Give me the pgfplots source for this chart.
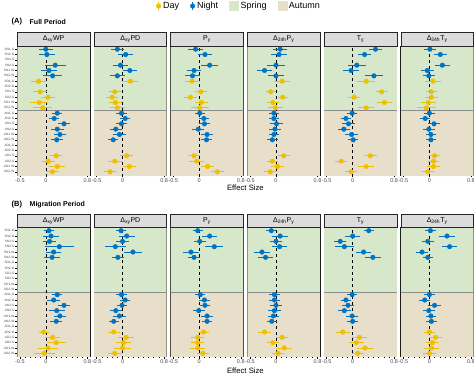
\documentclass[border=0pt]{standalone}
\usepackage{pgfplots}
\pgfplotsset{compat=1.18}
\usepackage{pgfplotstable}
\usepackage{fontspec}
\setmainfont{Liberation Sans}

\definecolor{dayc}{HTML}{EFC000}
\definecolor{nightc}{HTML}{0073C2}
\definecolor{springc}{HTML}{D7E7C9}
\definecolor{autumnc}{HTML}{E8DFCB}
\definecolor{stripc}{HTML}{DCDCDC}

% ---------- Full period ----------
\pgfplotstableread{
y x e
24 0.00 0.14
23 0.02 0.16
21 0.18 0.20
20 0.06 0.15
19 0.13 0.18
12 0.22 0.10
11 0.16 0.10
10 0.35 0.12
9 0.22 0.12
8 0.27 0.12
7 0.21 0.12
}\tAaN
\pgfplotstableread{
y x e
18 -0.14 0.14
16 -0.11 0.14
15 0.04 0.14
14 -0.13 0.17
13 -0.06 0.18
4 0.20 0.12
3 0.05 0.12
2 0.22 0.15
1 0.13 0.13
}\tAaD
\pgfplotstableread{
y x e
24 -0.10 0.13
23 0.06 0.14
21 -0.04 0.15
20 0.14 0.13
19 -0.10 0.15
12 -0.02 0.10
11 0.05 0.10
10 -0.02 0.10
9 -0.13 0.12
8 -0.06 0.12
7 -0.18 0.10
}\tAbN
\pgfplotstableread{
y x e
18 0.15 0.15
16 -0.15 0.12
15 -0.20 0.12
14 -0.14 0.13
13 -0.10 0.14
4 0.08 0.12
3 -0.15 0.14
2 0.13 0.12
1 -0.24 0.12
}\tAbD
\pgfplotstableread{
y x e
24 -0.07 0.15
23 0.11 0.13
21 0.20 0.16
20 -0.10 0.13
19 -0.13 0.15
12 0.01 0.10
11 0.09 0.10
10 0.10 0.10
9 -0.02 0.12
8 0.15 0.12
7 0.14 0.10
}\tAcN
\pgfplotstableread{
y x e
18 -0.14 0.13
16 0.03 0.12
15 -0.17 0.12
14 0.04 0.13
13 0.01 0.17
4 -0.10 0.12
3 -0.05 0.14
2 0.16 0.13
1 0.35 0.12
}\tAcD
\pgfplotstableread{
y x e
24 0.08 0.13
23 0.06 0.15
21 0.00 0.17
20 -0.22 0.15
19 0.00 0.15
12 -0.04 0.10
11 -0.04 0.10
10 0.01 0.12
9 -0.02 0.12
8 -0.04 0.10
7 -0.07 0.10
}\tAdN
\pgfplotstableread{
y x e
18 0.12 0.15
16 -0.10 0.10
15 0.13 0.10
14 -0.06 0.12
13 -0.01 0.15
4 0.15 0.12
3 -0.07 0.10
2 0.03 0.12
1 -0.11 0.12
}\tAdD
\pgfplotstableread{
y x e
24 0.44 0.12
23 0.23 0.12
21 0.08 0.17
20 -0.03 0.15
19 0.41 0.18
12 -0.01 0.10
11 -0.13 0.10
10 -0.08 0.12
9 -0.17 0.12
8 -0.02 0.12
7 0.01 0.10
}\tAeN
\pgfplotstableread{
y x e
18 0.26 0.17
16 0.56 0.12
15 0.03 0.12
14 0.61 0.14
13 0.26 0.16
4 0.34 0.12
3 -0.22 0.12
2 0.26 0.15
1 -0.03 0.12
}\tAeD
\pgfplotstableread{
y x e
24 0.01 0.12
23 0.21 0.12
21 0.25 0.14
20 -0.04 0.12
19 -0.01 0.12
12 0.00 0.10
11 -0.08 0.10
10 0.09 0.12
9 -0.01 0.12
8 0.03 0.10
7 0.03 0.10
}\tAfN
\pgfplotstableread{
y x e
18 0.07 0.15
16 0.04 0.10
15 0.04 0.12
14 -0.02 0.15
13 -0.06 0.18
4 0.10 0.10
3 0.08 0.10
2 0.08 0.12
1 -0.03 0.12
}\tAfD

% ---------- Migration period ----------
\pgfplotstableread{
y x e
24 0.06 0.10
23 0.10 0.15
22 0.07 0.12
21 0.26 0.28
20 0.15 0.15
19 0.12 0.15
12 0.22 0.10
11 0.15 0.12
10 0.35 0.12
9 0.21 0.15
8 0.27 0.12
7 0.20 0.12
}\tBaN
\pgfplotstableread{
y x e
5 -0.04 0.10
4 0.13 0.15
3 0.20 0.18
2 0.04 0.20
1 -0.03 0.20
}\tBaD
\pgfplotstableread{
y x e
24 -0.03 0.10
23 0.08 0.15
22 0.00 0.12
21 -0.14 0.20
20 0.20 0.18
19 -0.09 0.12
12 -0.02 0.10
11 0.05 0.10
10 -0.01 0.10
9 -0.13 0.12
8 -0.06 0.12
7 -0.17 0.10
}\tBbN
\pgfplotstableread{
y x e
5 -0.17 0.12
4 0.07 0.15
3 0.02 0.14
2 0.00 0.16
1 -0.15 0.14
}\tBbD
\pgfplotstableread{
y x e
24 -0.03 0.10
23 0.20 0.14
22 0.01 0.12
21 0.29 0.17
20 -0.16 0.15
19 -0.10 0.12
12 0.02 0.10
11 0.10 0.10
10 0.11 0.10
9 -0.01 0.12
8 0.15 0.12
7 0.15 0.10
}\tBcN
\pgfplotstableread{
y x e
5 0.08 0.10
4 -0.03 0.12
3 -0.03 0.12
2 -0.03 0.14
1 0.07 0.12
}\tBcD
\pgfplotstableread{
y x e
24 -0.09 0.10
23 0.08 0.15
22 0.00 0.12
21 0.07 0.15
20 -0.27 0.15
19 -0.20 0.15
12 -0.03 0.10
11 -0.03 0.10
10 0.00 0.12
9 -0.03 0.12
8 -0.05 0.10
7 -0.08 0.10
}\tBdN
\pgfplotstableread{
y x e
5 -0.22 0.12
4 0.12 0.12
3 -0.06 0.12
2 0.16 0.15
1 0.04 0.12
}\tBdD
\pgfplotstableread{
y x e
24 0.31 0.10
23 0.00 0.15
22 -0.24 0.12
21 -0.16 0.18
20 0.21 0.15
19 0.39 0.15
12 -0.01 0.10
11 -0.13 0.10
10 -0.09 0.12
9 -0.16 0.12
8 -0.01 0.12
7 0.00 0.10
}\tBeN
\pgfplotstableread{
y x e
5 -0.19 0.14
4 0.13 0.15
3 0.07 0.15
2 0.24 0.16
1 0.10 0.12
}\tBeD
\pgfplotstableread{
y x e
24 0.02 0.10
23 0.34 0.15
22 -0.03 0.12
21 0.39 0.15
20 -0.14 0.12
19 -0.03 0.10
12 0.00 0.10
11 -0.09 0.10
10 0.10 0.12
9 -0.01 0.12
8 0.03 0.10
7 0.04 0.10
}\tBfN
\pgfplotstableread{
y x e
5 0.00 0.10
4 0.12 0.12
3 0.06 0.12
2 0.04 0.14
1 0.00 0.12
}\tBfD

\pgfplotsset{
 panel/.style={
  scale only axis, width=72.7pt, height=129pt,
  xmin=-0.55, xmax=0.85, ymin=0.4, ymax=24.6,
  xtick={-0.5,0,0.8}, xticklabels={{-0.5},{0},{0.8}},
  minor xtick={-0.4,-0.3,-0.2,-0.1,0.1,0.2,0.3,0.4,0.5,0.6,0.7},
  tick align=outside, tick pos=left,
  major tick length=2pt, minor tick length=1.3pt,
  major tick style={black, line width=0.5pt},
  minor tick style={black, line width=0.5pt},
  axis line style={black, line width=0.8pt},
  xticklabel style={font=\fontsize{5.5}{6}\selectfont, text=black!70, inner sep=1pt},
  yticklabel style={font=\fontsize{3.2}{3.5}\selectfont, text=black!70, inner sep=0.8pt},
  ytick=\empty,
 },
 firstcol/.style={ytick={1,...,24},
  yticklabels={AD2-W,AD1-W,AD2-S,AD1-S,AD2-G,AD1-G,AN2-W,AN1-W,AN2-S,AN1-S,AN2-G,AN1-G,SD2-W,SD1-W,SD2-S,SD1-S,SD2-G,SD1-G,SN2-W,SN1-W,SN2-S,SN1-S,SN2-G,SN1-G}},
 cibar/.style={forget plot, only marks, scatter, mark=-,
  mark options={line width=0.85pt},
  scatter/use mapped color={draw=#1, fill=#1},
  visualization depends on={51.93*\thisrow{e} \as \hw},
  scatter/@pre marker code/.append style={/tikz/mark size=\hw}},
 cidot/.style={forget plot, only marks, scatter, mark=*, mark size=2.3pt,
  scatter/use mapped color={draw=#1, fill=#1}},
}

\newcommand{\panel}[8]{%
\begin{axis}[panel, name=#1, at={(#2pt,#3pt)}, anchor=north west, #7]
\fill[springc] (axis cs:-0.6,12.5) rectangle (axis cs:0.9,25);
\fill[autumnc] (axis cs:-0.6,0) rectangle (axis cs:0.9,12.5);
\draw[black!45, line width=0.5pt] (axis cs:-0.6,12.5) -- (axis cs:0.9,12.5);
\draw[dashed, line width=0.6pt] (axis cs:0,0) -- (axis cs:0,25);
\addplot[cibar=nightc] table[x=x,y=y] {#5};
\addplot[cidot=nightc] table[x=x,y=y] {#5};
\addplot[cibar=dayc] table[x=x,y=y] {#6};
\addplot[cidot=dayc] table[x=x,y=y] {#6};
#8
\end{axis}
\draw[fill=stripc, draw=black!85, line width=0.6pt] (#1.north west) rectangle ([yshift=13.7pt]#1.north east);
\node[font=\fontsize{7}{8}\selectfont] at ([yshift=6.85pt]#1.north) {#4};
}

\begin{document}
\begin{tikzpicture}
\path[use as bounding box] (0,0) rectangle (474pt,-375pt);

\panel{a1}{17.3}{-46}{Δ\textsubscript{xy}WP}{\tAaN}{\tAaD}{firstcol,
  legend columns=4,
  legend style={at={(3.05,1.31)}, anchor=center, draw=none, fill=none,
    font=\fontsize{9}{10}\selectfont, inner sep=0pt,
    /tikz/every even column/.append style={column sep=9pt}}}{%
  \addlegendimage{dayc, legend image code/.code={\draw[line width=0.9pt] (4pt,-4pt) -- (4pt,4pt); \fill (4pt,0pt) circle (2.3pt);}}
  \addlegendentry{Day}
  \addlegendimage{nightc, legend image code/.code={\draw[line width=0.9pt] (4pt,-4pt) -- (4pt,4pt); \fill (4pt,0pt) circle (2.3pt);}}
  \addlegendentry{Night}
  \addlegendimage{springc, legend image code/.code={\fill (0pt,-4.5pt) rectangle (9pt,4.5pt);}}
  \addlegendentry{Spring}
  \addlegendimage{autumnc, legend image code/.code={\fill (0pt,-4.5pt) rectangle (9pt,4.5pt);}}
  \addlegendentry{Autumn}
}
\panel{a2}{94.0}{-46}{Δ\textsubscript{xy}PD}{\tAbN}{\tAbD}{}{}
\panel{a3}{170.7}{-46}{P\textsubscript{y}}{\tAcN}{\tAcD}{}{}
\panel{a4}{247.4}{-46}{Δ\textsubscript{24h}P\textsubscript{y}}{\tAdN}{\tAdD}{}{}
\panel{a5}{324.1}{-46}{T\textsubscript{y}}{\tAeN}{\tAeD}{}{}
\panel{a6}{400.8}{-46}{Δ\textsubscript{24h}T\textsubscript{y}}{\tAfN}{\tAfD}{}{}

\panel{b1}{17.3}{-227.5}{Δ\textsubscript{xy}WP}{\tBaN}{\tBaD}{firstcol}{}
\panel{b2}{94.0}{-227.5}{Δ\textsubscript{xy}PD}{\tBbN}{\tBbD}{}{}
\panel{b3}{170.7}{-227.5}{P\textsubscript{y}}{\tBcN}{\tBcD}{}{}
\panel{b4}{247.4}{-227.5}{Δ\textsubscript{24h}P\textsubscript{y}}{\tBdN}{\tBdD}{}{}
\panel{b5}{324.1}{-227.5}{T\textsubscript{y}}{\tBeN}{\tBeD}{}{}
\panel{b6}{400.8}{-227.5}{Δ\textsubscript{24h}T\textsubscript{y}}{\tBfN}{\tBfD}{}{}

\node[font=\fontsize{7.7}{9}\selectfont] at (245.4pt,-188pt) {Effect Size};
\node[font=\fontsize{7.7}{9}\selectfont] at (245.4pt,-371pt) {Effect Size};
\node[anchor=west, font=\fontsize{7.5}{9}\selectfont\bfseries, inner sep=0pt] at (11.5pt,-22pt) {(A)};
\node[anchor=west, font=\fontsize{7}{9}\selectfont\bfseries, inner sep=0pt] at (29.5pt,-22pt) {Full Period};
\node[anchor=west, font=\fontsize{7.5}{9}\selectfont\bfseries, inner sep=0pt] at (11.5pt,-205pt) {(B)};
\node[anchor=west, font=\fontsize{7}{9}\selectfont\bfseries, inner sep=0pt] at (29.5pt,-205pt) {Migration Period};
\end{tikzpicture}
\end{document}
